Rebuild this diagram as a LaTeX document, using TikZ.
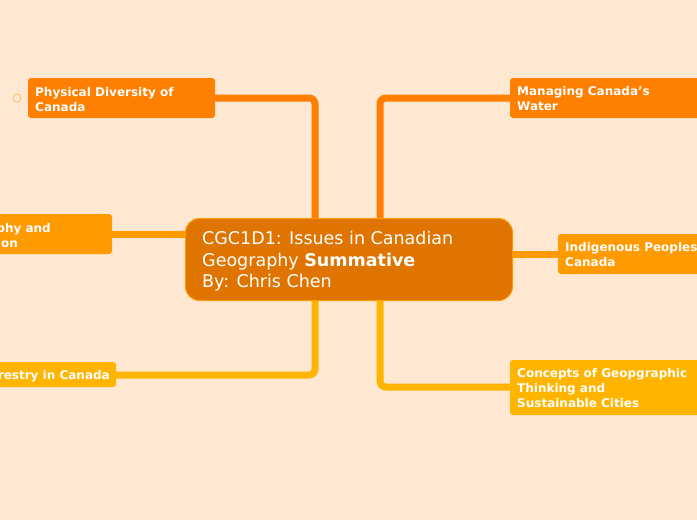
\documentclass[tikz,border=0pt]{standalone}
\usepackage{fontspec}
\setmainfont{DejaVu Sans}
\definecolor{bg}{HTML}{FEE8D1}
\definecolor{oA}{HTML}{FF7F00}
\definecolor{oB}{HTML}{FF9A00}
\definecolor{oC}{HTML}{FFB400}
\definecolor{cen}{HTML}{E07400}
\begin{document}
\begin{tikzpicture}[x=1pt,y=-1pt,
  topic/.style={text=white,font=\bfseries\fontsize{12}{15}\selectfont,align=left,anchor=north west,inner sep=0pt},
  link/.style={line width=7pt,rounded corners=6pt}]
\useasboundingbox (0,0) rectangle (697,520);
\clip (0,0) rectangle (697,520);
\fill[bg] (0,0) rectangle (697,520);
% connectors
\draw[link,oA] (210,98) -- (315,98) -- (315,225);
\draw[link,oA] (380,225) -- (380,98) -- (515,98);
\draw[link,oB] (105,234) -- (190,234);
\draw[link,oB] (505,254) -- (563,254);
\draw[link,oC] (110,375) -- (315,375) -- (315,295);
\draw[link,oC] (380,295) -- (380,387) -- (515,387);
% central
\node[draw=oB,line width=1pt,fill=cen,rounded corners=14pt,minimum width=327pt,minimum height=82pt,anchor=north west,inner sep=0pt] (c) at (185,218) {};
\node[anchor=north west,text=white,align=left,font=\fontsize{17.5}{21.5}\selectfont,inner sep=0pt] (ct) at (202,231) {CGC1D1: Issues in Canadian\\Geography \textbf{Summative}\\By: Chris Chen};
% topics
\fill[oA,rounded corners=3pt] (28,78) rectangle (215,118);
\node[topic] (p) at (35,87) {Physical Diversity of\\Canada};
\fill[oB,rounded corners=3pt] (-100,214) rectangle (112,254);
\node[topic,anchor=north east] (d) at (51,223) {Demography and\\Immigration};
\fill[oC,rounded corners=3pt] (-100,362) rectangle (116,387);
\node[topic,anchor=north east] (f) at (110,370) {Forestry in Canada};
\fill[oA,rounded corners=3pt] (510,78) rectangle (705,118);
\node[topic] (m) at (517,86) {Managing Canada's\\Water};
\fill[oB,rounded corners=3pt] (558,234) rectangle (705,274);
\node[topic] (i) at (565,242) {Indigenous Peoples of\\Canada};
\fill[oC,rounded corners=3pt] (510,360) rectangle (705,415);
\node[topic] (k) at (517,368) {Concepts of Geopgraphic\\Thinking and\\Sustainable Cities};
% icon
\node[draw=oB!70,circle,inner sep=0pt,minimum size=8pt,line width=0.6pt] (ic) at (17,98) {};
\end{tikzpicture}
\end{document}
